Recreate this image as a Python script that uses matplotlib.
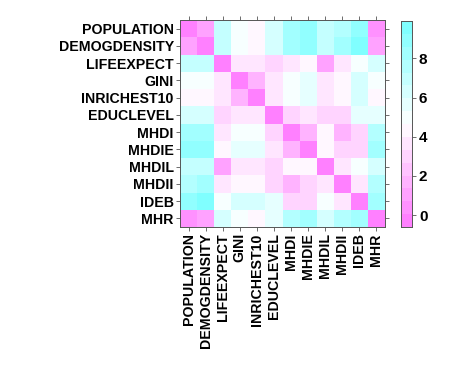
import numpy as np
import matplotlib
matplotlib.use("Agg")
import matplotlib.pyplot as plt
from matplotlib.colors import ListedColormap, BoundaryNorm, hsv_to_rgb

plt.rcParams['font.family'] = ['Liberation Sans', 'DejaVu Sans']

labels = ["POPULATION", "DEMOGDENSITY", "LIFEEXPECT", "GINI", "INRICHEST10",
          "EDUCLEVEL", "MHDI", "MHDIE", "MHDIL", "MHDII", "IDEB", "MHR"]

z = [
    [0.0, 1.2, 7.0, 5.0, 4.4, 6.0, 8.4, 8.8, 6.8, 7.8, 8.8, 0.5],
    [1.2, 0.0, 7.0, 5.0, 4.5, 6.0, 8.5, 8.8, 7.0, 8.0, 9.3, 0.9],
    [7.0, 7.0, 0.0, 3.6, 3.6, 2.9, 3.4, 4.2, 0.8, 3.7, 5.0, 6.2],
    [5.0, 5.0, 3.6, 0.0, 1.5, 3.8, 5.2, 5.5, 3.8, 4.3, 6.0, 5.0],
    [4.4, 4.5, 3.6, 1.5, 0.0, 3.8, 5.1, 5.4, 3.9, 4.2, 6.0, 4.3],
    [6.0, 6.0, 2.9, 3.8, 3.8, 0.0, 3.0, 3.6, 3.1, 3.2, 5.5, 5.6],
    [8.4, 8.5, 3.4, 5.2, 5.1, 3.0, 0.0, 1.8, 4.0, 2.0, 3.2, 7.8],
    [8.8, 8.8, 4.2, 5.5, 5.4, 3.6, 1.8, 0.0, 4.3, 3.0, 3.1, 8.4],
    [6.8, 7.0, 0.8, 3.8, 3.9, 3.1, 4.0, 4.3, 0.0, 3.8, 5.0, 6.6],
    [7.8, 8.0, 3.7, 4.3, 4.2, 3.2, 2.0, 3.0, 3.8, 0.0, 3.8, 7.4],
    [8.8, 9.3, 5.0, 6.0, 6.0, 5.5, 3.2, 3.1, 5.0, 3.8, 0.0, 8.4],
    [0.5, 0.9, 6.2, 5.0, 4.3, 5.6, 7.8, 8.4, 6.6, 7.4, 8.4, 0.0],
]
cbar_ticks = [0, 2, 4, 6, 8]

zmin, zmax = -0.6, 9.9
ncuts = 16
bounds = np.linspace(zmin, zmax, ncuts + 1)

# reversed cm.colors: magenta (low) -> white -> cyan (high)
cols = []
for i in range(ncuts):
    t = i / (ncuts - 1)
    if t < 0.5:
        h, s = 10 / 12, 0.5 * (1 - t / 0.5)
    else:
        h, s = 6 / 12, 0.5 * ((t - 0.5) / 0.5)
    cols.append(hsv_to_rgb([h, s, 1.0]))
cmap = ListedColormap(cols)
norm = BoundaryNorm(bounds, cmap.N)

fig = plt.figure(figsize=(4.74, 3.66), dpi=100)
ax = fig.add_axes([180 / 474, 1 - 227 / 366, 205 / 474, 207 / 366])
data = np.array(z)
n = len(labels)
ax.pcolormesh(np.arange(n + 1) - 0.5, np.arange(n + 1) - 0.5, data,
              cmap=cmap, norm=norm)
ax.set_xlim(-0.5, n - 0.5)
ax.set_ylim(n - 0.5, -0.5)
ax.set_xticks(range(n))
ax.set_yticks(range(n))
ax.set_xticklabels(labels, rotation=90, fontsize=10.2, fontweight='bold')
ax.set_yticklabels(labels, fontsize=10.2, fontweight='bold')
ax.tick_params(axis='both', which='both', length=3, width=0.6, color='#555555',
               top=True, right=True, pad=1.5)
for sp in ax.spines.values():
    sp.set_color('#555555')
    sp.set_linewidth(0.7)

cax = fig.add_axes([401 / 474, 1 - 227 / 366, 11 / 474, 206 / 366])
cax.pcolormesh([0, 1], bounds, np.array(bounds[:-1] + np.diff(bounds) / 2).reshape(-1, 1),
               cmap=cmap, norm=norm)
cax.set_xlim(0, 1)
cax.set_ylim(zmin, zmax)
cax.set_xticks([])
cax.yaxis.tick_right()
cax.set_yticks(cbar_ticks)
cax.set_yticklabels([str(t) for t in cbar_ticks], fontsize=11, fontweight='bold')
cax.tick_params(axis='y', length=3, width=0.6, color='#555555', pad=2)
for sp in cax.spines.values():
    sp.set_color('#555555')
    sp.set_linewidth(0.7)

fig.savefig("out.png", dpi=100)
